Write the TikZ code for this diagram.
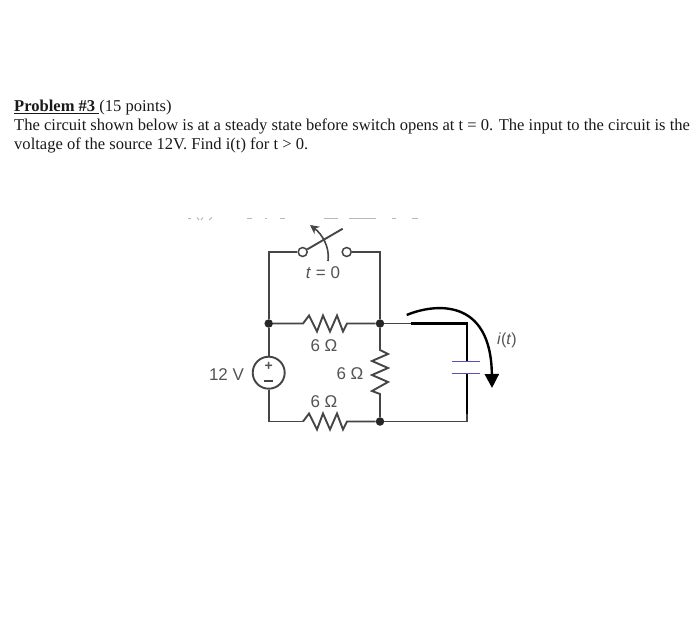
\documentclass[tikz,border=0pt]{standalone}
\usepackage{fontspec}
\setmainfont{Liberation Serif}
\setsansfont{Liberation Sans}
\usetikzlibrary{arrows.meta}
\definecolor{wire}{gray}{0.27}
\definecolor{labelgray}{gray}{0.33}
\definecolor{capblue}{RGB}{95,80,185}
\definecolor{faint}{gray}{0.72}
\tikzset{
  prose/.style={anchor=base west,inner sep=0pt,font=\fontsize{16.55}{18}\selectfont,text=black!90},
  cirlabel/.style={inner sep=0pt,text=labelgray,font=\sffamily\fontsize{17}{19}\selectfont},
  wireline/.style={draw=wire,line width=1.9pt,line join=miter},
  heavy/.style={draw=black,line width=2.4pt},
  junction/.style={circle,fill=black!85,inner sep=0pt,minimum size=8.5pt},
  terminal/.style={circle,draw=wire,fill=white,line width=1.5pt,inner sep=0pt,minimum size=9pt},
  platepen/.style={draw=capblue,line width=1.2pt},
  sourcecircle/.style={circle,draw=wire,fill=white,line width=1.9pt,inner sep=0pt,minimum size=32pt},
  remnant/.style={draw=faint,line width=1pt}
}
\begin{document}
\begin{tikzpicture}[x=1pt,y=-1pt]
\useasboundingbox (0,0) rectangle (700,623);
% text
\node[prose] (l1) at (14,111.5) {\underline{\hbox{\textbf{Problem \#3 }}}(15 points)};
\node[prose] (l2) at (14,130.5) {The circuit shown below is at a steady state before switch opens at t = 0. The input to the circuit is the};
\node[prose] (l3) at (14,149) {voltage of the source 12V. Find i(t) for t > 0.};
% coordinates
\coordinate (tl) at (268.7,252);
\coordinate (tr) at (380,252);
\coordinate (bl) at (268.7,421.5);
\coordinate (br) at (380,421.5);
\coordinate (cr) at (466.7,323.5);
\coordinate (cb) at (466.7,421.5);
\coordinate (h1) at (410.7,323.5);
\coordinate (h2) at (466.7,413.5);
\coordinate (pa) at (466.7,361.7);
\coordinate (pb) at (466.7,373.3);
\coordinate (swend) at (342.7,228.7);
\coordinate (arcs) at (328,261);
\coordinate (arce) at (310,225);
\coordinate (is) at (406.7,315);
\coordinate (ie) at (492,388);
% wires
\node[terminal] (sa) at (302.7,252) {};
\node[terminal] (sb) at (346.7,252) {};
\node[junction] (ml) at (268.7,323.5) {};
\node[junction] (mr) at (380,323.5) {};
\node[junction] (nbr) at (380,421.5) {};
\draw[wireline] (sa) -- (tl) -- (ml);
\draw[wireline] (sb) -- (tr) -- (mr);
\draw[wireline] (sa) -- (swend);
\draw[wireline,line width=1.6pt,-{Stealth[length=9pt,width=9pt]}] (arcs) .. controls (330,247) and (322,234) .. (arce);
\node[sourcecircle] (src) at (268.7,372.7) {};
\draw[wireline] (ml) -- (src);
\draw[wireline] (src) -- (bl) -- (303,421.5);
% top resistor
\draw[wireline] (ml) -- (303,323.5) -- (309,315.5) -- (317,331.5) -- (323,315.5) -- (330,331.5) -- (337,315.5) -- (343,331.5) -- (347,323.5) -- (mr);
% bottom resistor
\draw[wireline] (303,421.5) -- (309,413.5) -- (317,429.5) -- (323,413.5) -- (330,429.5) -- (337,413.5) -- (343,429.5) -- (347,421.5) -- (nbr);
% right resistor
\draw[wireline] (mr) -- (380,350) -- (388,354) -- (372,361) -- (388,368) -- (372,375) -- (388,382) -- (372,391) -- (380,394) -- (nbr);
% capacitor branch
\draw[wireline] (mr) -- (h1);
\draw[wireline] (nbr) -- (cb) -- (h2);
\draw[heavy] (h1) -- (cr) -- (pa);
\draw[heavy] (pb) -- (h2);
\draw[platepen] (451.7,361.7) -- (480,361.7);
\draw[platepen] (451.7,373.3) -- (480,373.3);
\draw[draw=black,line width=2.4pt,-{Triangle[length=14pt,width=14pt]}] (is) .. controls (434,303.5) and (491,297) .. (ie);
% source signs
\node[cirlabel,font=\sffamily\fontsize{14}{14}\selectfont\bfseries] (plus) at (268.7,366) {+};
\draw[wireline,line width=1.4pt] (264.2,381) -- (273.2,381);
% labels
\node[cirlabel,anchor=base] (swl) at (323,278.5) {\textit{t} = 0};
\node[cirlabel,anchor=base] (r1) at (324,351) {6 Ω};
\node[cirlabel,anchor=base] (r2) at (350,379.5) {6 Ω};
\node[cirlabel,anchor=base] (r3) at (324,407) {6 Ω};
\node[cirlabel,anchor=base] (v) at (226.5,380) {12 V};
\node[cirlabel,anchor=base,font=\sffamily\fontsize{16}{18}\selectfont] (it) at (507,344.5) {\textit{i}(\textit{t})};
% clipped remnants of a line of text above the circuit
\draw[remnant] (188,218.5) -- (191,218.5) (197,217.5) -- (199,220) (203,217.5) -- (201,220) (209,220) -- (212,217.5);
\draw[remnant] (247,218.5) -- (252,218.5) (265,218.5) -- (267,218.5) (280,218.5) -- (285,218.5);
\draw[remnant] (324,218.5) -- (338,218.5) (349,218.5) -- (376,218.5) (392,218.5) -- (396,218.5) (412,218.5) -- (418,218.5);
\end{tikzpicture}
\end{document}
